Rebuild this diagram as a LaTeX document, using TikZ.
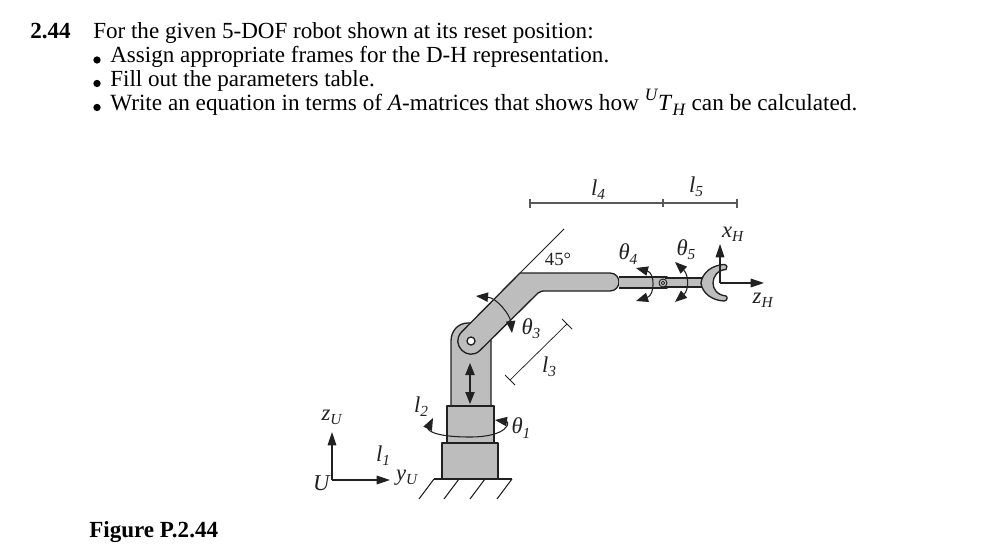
\documentclass[tikz,border=0pt]{standalone}
\usepackage{fontspec}
\setmainfont{Liberation Serif}
\usetikzlibrary{arrows.meta}
\definecolor{armgray}{gray}{0.74}
\definecolor{inkc}{gray}{0.13}
\definecolor{dimc}{gray}{0.35}
\newcommand{\subsz}{\fontsize{11.5}{12}\selectfont}
\newcommand{\lab}[2]{\textit{#1}\raisebox{-0.4ex}{\subsz\textit{#2}}}
\tikzset{
  body/.style={fill=armgray,draw=inkc,line width=1pt,line join=round},
  motion/.style={draw=inkc,line width=0.8pt,{Triangle[length=9pt,width=7pt]}-{Triangle[length=9pt,width=7pt]}},
  axisline/.style={draw=inkc,line width=0.8pt,-{Triangle[length=10pt,width=6.5pt]}},
  dimline/.style={draw=dimc,line width=0.9pt},
  thinline/.style={draw=inkc,line width=0.55pt},
  ground/.style={draw=inkc,line width=0.8pt},
  headtext/.style={anchor=base west,inner sep=0pt,font=\fontsize{17.3}{19}\selectfont,text=black},
  headbold/.style={headtext,font=\fontsize{17.3}{19}\selectfont\bfseries},
  bul/.style={circle,fill=black,inner sep=0pt,minimum size=5.5pt},
  dimlabel/.style={inner sep=0pt,font=\fontsize{17}{19}\selectfont,text=inkc},
  deglabel/.style={inner sep=0pt,font=\fontsize{14}{16}\selectfont,text=inkc}
}
\begin{document}
\begin{tikzpicture}[x=0.75pt,y=-0.75pt]
\useasboundingbox (0,0) rectangle (994,555);
% heading
\node[headbold] (num) at (30,39) {2.44};
\node[headtext] (t0) at (93,39) {For the given 5-DOF robot shown at its reset position:};
\node[bul] (b1) at (97,60) {};
\node[headtext] (t1) at (110,63) {Assign appropriate frames for the D-H representation.};
\node[bul] (b2) at (97,83.5) {};
\node[headtext] (t2) at (110,87) {Fill out the parameters table.};
\node[bul] (b3) at (97,107.5) {};
\node[headtext,font=\fontsize{17.42}{19}\selectfont] (t3) at (110,111) {Write an equation in terms of \textit{A}-matrices that shows how \raisebox{1ex}{\fontsize{13}{14}\selectfont\textit{U}}\textit{T}\raisebox{-0.4ex}{\fontsize{13}{14}\selectfont\textit{H}} can be calculated.};
\node[headbold] (fig) at (89,537) {Figure P.2.44};
% ground and hatching
\coordinate (g0) at (434,479); \coordinate (g1) at (512,479);
\coordinate (g2) at (459,479); \coordinate (g3) at (485,479);
\coordinate (h0) at (419,499); \coordinate (h1) at (497,499);
\coordinate (h2) at (444,499); \coordinate (h3) at (470,499);
\draw[ground] (g0) -- (g1);
\draw[ground] (g0) -- (h0);
\draw[ground] (g1) -- (h1);
\draw[ground] (g2) -- (h2);
\draw[ground] (g3) -- (h3);
% robot base
\draw[body] (451,406) -- (451,341) .. controls (451,331) and (458,323) .. (468,323) -- (491,323) -- (491,406) -- cycle;
\draw[body] (447,406) rectangle (494,443);
\draw[body] (442,443) rectangle (498,479);
% upper arm and forearm
\draw[body] (461.8,331.8) -- (520,273) -- (610,273)
  .. controls (616,273) and (619,278) .. (619,282)
  .. controls (619,286) and (616,291) .. (610,291)
  -- (546,291) .. controls (542,291) and (541,291) .. (538,293)
  -- (480.2,350.2)
  .. controls (467.9,362.5) and (449.5,344.1) .. (461.8,331.8) -- cycle;
\draw[body,fill=white] (471,341) circle[radius=4];
% wrist and hand links
\draw[body,line width=0.85pt] (619,277) -- (667,277) -- (667,288) -- (619,288);
\draw[body,line width=0.85pt] (665,278) -- (702,278) -- (702,287) -- (665,287);
\draw[body,line width=0.7pt] (663,283) circle[radius=4];
\draw[body,fill=white,line width=0.6pt] (663,283) circle[radius=1.8];
% gripper
\draw[body] (701,283) .. controls (702,273) and (712,265) .. (724,264.5)
  .. controls (727,264.5) and (728,268) .. (726,269.5)
  .. controls (717,270) and (713,277) .. (713,283)
  .. controls (713,289) and (717,295) .. (726,296)
  .. controls (728,297) and (727,301) .. (724,301)
  .. controls (712,300.5) and (702,293) .. (701,283) -- cycle;
% motion arrows
\draw[motion] (495,420) .. controls (510,422) and (508,437) .. (470,437) .. controls (428,437) and (428,428) .. (433,418);
\draw[motion] (470,363) -- (470,404);
\draw[motion] (476,296) .. controls (497,298) and (510,315) .. (512,333);
\draw[motion] (636,268) .. controls (655,273) and (655,295) .. (636,301);
\draw[motion] (675,262) .. controls (689,275) and (689,290) .. (675,302);
% 45 degree reference
\coordinate (e0) at (520,273); \coordinate (e1) at (564,229);
\draw[thinline] (e0) -- (e1);
\node[deglabel] (deg) at (558,259) {45°};
% l3 dimension
\coordinate (m0) at (510,380); \coordinate (m1) at (567,324);
\draw[thinline] (m0) -- (m1);
\draw[thinline] (505,375) -- (515,385);
\draw[thinline] (562,319) -- (572,329);
% l4 l5 dimension
\coordinate (d0) at (530,203); \coordinate (d1) at (663,203); \coordinate (d2) at (737,203);
\draw[dimline] (d0) -- (d1) -- (d2);
\draw[dimline] (530,199) -- (530,208);
\draw[dimline] (663,199) -- (663,207);
\draw[dimline] (737,199) -- (737,208);
% hand frame
\coordinate (hf) at (720,283); \coordinate (hx) at (720,244); \coordinate (hz) at (764,283);
\draw[axisline] (hf) -- (hx);
\draw[axisline] (hf) -- (hz);
% universe frame
\coordinate (uf) at (332,480); \coordinate (uz) at (332,432); \coordinate (uy) at (390,480);
\draw[axisline] (uf) -- (uz);
\draw[axisline] (uf) -- (uy);
% labels
\node[dimlabel] (l4) at (598,190) {\lab{l}{4}};
\node[dimlabel] (l5) at (696,187) {\lab{l}{5}};
\node[dimlabel] (l3) at (549,367) {\lab{l}{3}};
\node[dimlabel] (l2) at (421,407) {\lab{l}{2}};
\node[dimlabel] (l1) at (383,456) {\lab{l}{1}};
\node[dimlabel] (th1) at (521,428) {\lab{θ}{1}};
\node[dimlabel] (th3) at (531,329) {\lab{θ}{3}};
\node[dimlabel] (th4) at (628,254) {\lab{θ}{4}};
\node[dimlabel] (th5) at (686,250) {\lab{θ}{5}};
\node[dimlabel] (xh) at (733,234) {\lab{x}{H}};
\node[dimlabel] (zh) at (763,300) {\lab{z}{H}};
\node[dimlabel] (zu) at (332,417) {\lab{z}{U}};
\node[dimlabel] (yu) at (407,478) {\lab{y}{U}};
\node[dimlabel] (uo) at (322,483) {\textit{U}};
\end{tikzpicture}
\end{document}
